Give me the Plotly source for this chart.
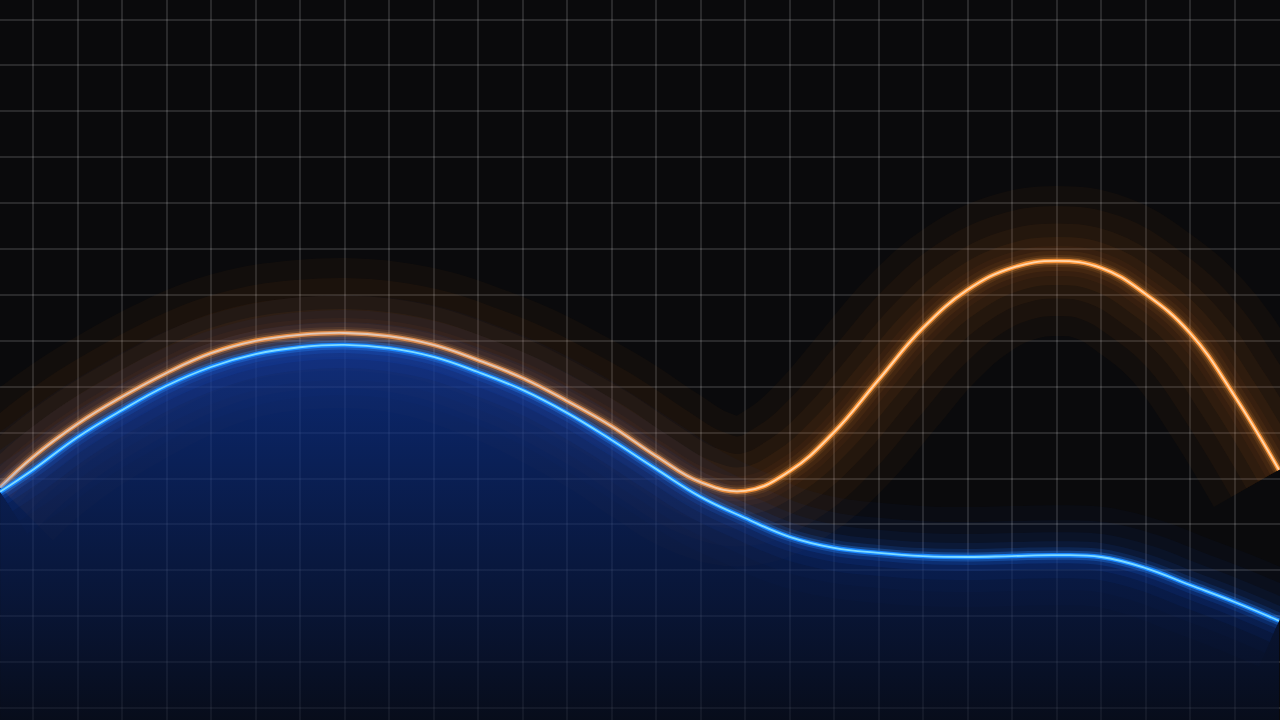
import plotly.graph_objects as go

# x positions in grid units (one unit per vertical grid line)
x_vals = [-0.74, 0, 1, 2, 3, 4, 5, 6, 7, 8, 9, 10, 11, 12, 13, 14, 15, 16, 17, 18,
          19, 20, 21, 22, 23, 24, 25, 26, 27, 28]

orange_vals = [4.81, 5.47, 6.19, 6.78, 7.30, 7.73, 8.00, 8.13, 8.17, 8.10, 7.91, 7.58,
               7.19, 6.69, 6.14, 5.49, 4.92, 4.73, 5.16, 6.01, 7.15, 8.28, 9.11, 9.59,
               9.74, 9.59, 9.02, 8.17, 6.80, 5.19]

blue_vals = [4.71, 5.19, 5.90, 6.49, 7.02, 7.43, 7.71, 7.86, 7.91, 7.84, 7.65, 7.32,
             6.93, 6.43, 5.84, 5.21, 4.60, 4.14, 3.73, 3.49, 3.38, 3.31, 3.29, 3.31,
             3.33, 3.29, 3.05, 2.68, 2.31, 1.90]

baseline_vals = [-0.3] * len(x_vals)

SMOOTH = 1.2
fig = go.Figure()


def line_trace(y, w, c):
    fig.add_trace(go.Scatter(x=x_vals, y=y, mode="lines",
                             line=dict(width=w, color=c, shape="spline", smoothing=SMOOTH),
                             hoverinfo="skip", showlegend=False))


# broad orange haze (drawn first so the blue area partly covers it)
for w, c in [(150, "rgba(255,130,30,0.035)"), (110, "rgba(255,130,30,0.04)"),
             (75, "rgba(255,135,35,0.045)"), (48, "rgba(255,140,40,0.05)")]:
    line_trace(orange_vals, w, c)

# broad blue haze
for w, c in [(100, "rgba(20,80,230,0.035)"), (70, "rgba(20,85,240,0.045)")]:
    line_trace(blue_vals, w, c)

# baseline for area fill
fig.add_trace(go.Scatter(x=x_vals, y=baseline_vals, mode="lines",
                         line=dict(width=0, color="rgba(0,0,0,0)"),
                         hoverinfo="skip", showlegend=False))
# blue area with vertical gradient
fig.add_trace(go.Scatter(
    x=x_vals, y=blue_vals, mode="lines", fill="tonexty",
    line=dict(width=0, color="rgba(0,0,0,0)", shape="spline", smoothing=SMOOTH),
    fillgradient=dict(type="vertical", start=-0.3, stop=8.0,
                      colorscale=[[0.0, "rgba(6,14,35,0.62)"],
                                  [0.35, "rgba(8,30,85,0.62)"],
                                  [1.0, "rgba(12,55,160,0.72)"]]),
    hoverinfo="skip", showlegend=False))


def glow(y, layers, core_outer, core_inner, w_outer, w_inner):
    for w, c in layers:
        line_trace(y, w, c)
    line_trace(y, w_outer, core_outer)
    line_trace(y, w_inner, core_inner)


glow(orange_vals,
     [(30, "rgba(255,140,40,0.04)"), (20, "rgba(255,150,50,0.06)"),
      (12, "rgba(255,160,60,0.1)"), (8, "rgba(255,170,80,0.2)")],
     "rgba(255,150,55,0.95)", "#ffd7ae", 4.5, 1.8)

glow(blue_vals,
     [(46, "rgba(20,100,255,0.05)"), (28, "rgba(20,105,255,0.08)"),
      (16, "rgba(30,120,255,0.14)"), (9, "rgba(40,140,255,0.3)")],
     "rgba(25,135,255,1)", "#7fdcff", 4.5, 1.8)

fig.update_layout(
    width=1280, height=720,
    margin=dict(l=0, r=0, t=0, b=0),
    paper_bgcolor="#0a0a0c", plot_bgcolor="#0a0a0c",
    showlegend=False,
    xaxis=dict(range=[-0.742, 28.022], tick0=0, dtick=1, showgrid=True,
               gridcolor="rgba(255,255,255,0.13)", gridwidth=1.5,
               showticklabels=False, zeroline=False, showline=False, fixedrange=True),
    yaxis=dict(range=[-0.261, 15.425], tick0=0, dtick=1, showgrid=True,
               gridcolor="rgba(255,255,255,0.13)", gridwidth=1.5,
               showticklabels=False, zeroline=False, showline=False, fixedrange=True),
)

fig.write_html("out.html", config={"displayModeBar": False},
               post_script="document.body.style.margin='0';"
                           "document.body.style.background='#0a0a0c';"
                           "document.body.style.overflow='hidden';")
